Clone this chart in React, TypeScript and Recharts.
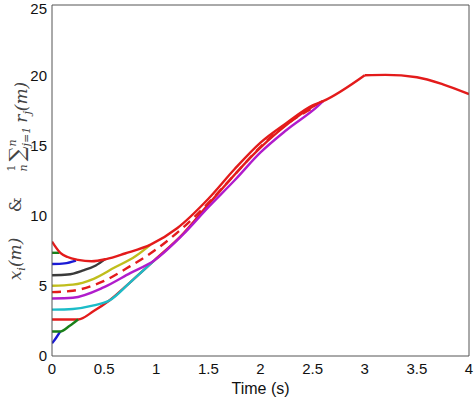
import React from 'react';
import {Line, LineChart, XAxis, YAxis} from 'recharts';

const xTicks: number[] = [0, 0.5, 1, 1.5, 2, 2.5, 3, 3.5, 4];
const yTicks: number[] = [0, 5, 10, 15, 20, 25];

// agent positions x_i(t)
const leadT = [0, 0.08, 0.15, 0.25, 0.38, 0.52, 0.7, 0.95, 1.2, 1.5, 1.75, 2, 2.25, 2.5, 2.6, 3];
const leadV = [8.15, 7.35, 7.05, 6.85, 6.75, 6.9, 7.3, 7.95, 9.1, 11.2, 13.3, 15.2, 16.6, 17.85, 18.15, 20];
const refT = [3, 3.2, 3.5, 3.75, 4];
const refV = [20, 20.02, 19.85, 19.35, 18.65];
const greenHiT = [0, 0.07];
const greenHiV = [7.35, 7.35];
const blueHiT = [0, 0.12, 0.23];
const blueHiV = [6.55, 6.6, 6.8];
const blackT = [0, 0.15, 0.3, 0.42, 0.51];
const blackV = [5.75, 5.8, 6.1, 6.45, 6.9];
const yellowT = [0, 0.2, 0.4, 0.6, 0.8, 0.94];
const yellowV = [5.0, 5.08, 5.5, 6.3, 7.1, 7.9];
const meanT = [0, 0.2, 0.5, 0.75, 1, 1.25, 1.5, 1.75, 2, 2.25, 2.5];
const meanV = [4.55, 4.65, 5.35, 6.4, 7.6, 9.1, 10.9, 12.9, 14.9, 16.5, 17.65];
const magentaT = [0, 0.2, 0.5, 0.75, 0.98, 1.25, 1.5, 1.75, 2, 2.25, 2.55, 2.6];
const magentaV = [4.1, 4.15, 4.9, 5.9, 6.8, 8.6, 10.6, 12.5, 14.5, 16.1, 17.8, 18.15];
const cyanT = [0, 0.2, 0.4, 0.55, 0.75, 0.98];
const cyanV = [3.3, 3.35, 3.6, 3.95, 5.25, 6.8];
const redLowT = [0, 0.25, 0.4, 0.55, 0.75, 0.98, 1.25, 1.5, 2, 2.5, 2.6];
const redLowV = [2.6, 2.6, 3.2, 3.95, 5.25, 6.8, 8.65, 10.8, 14.85, 17.75, 18.15];
const greenLowT = [0, 0.08, 0.17, 0.25];
const greenLowV = [1.75, 1.75, 2.15, 2.6];
const blueLowT = [0, 0.04, 0.08];
const blueLowV = [0.9, 1.3, 1.75];

const pts = (t: number[], v: number[]) => t.map((x, i) => ({t: x, v: v[i]}));

const RED = '#e31b1b';
const font = 'Liberation Sans, Arial, sans-serif';
const tickStyle = {fontSize: 15, fill: '#111', fontFamily: font};
const AX = '#555';

const series: {t: number[], v: number[], color: string, dash?: string}[] = [
    {t: redLowT, v: redLowV, color: RED},
    {t: blueLowT, v: blueLowV, color: '#1a1ad6'},
    {t: greenLowT, v: greenLowV, color: '#1a801a'},
    {t: cyanT, v: cyanV, color: '#1cbcc8'},
    {t: magentaT, v: magentaV, color: '#b01ccc'},
    {t: meanT, v: meanV, color: RED, dash: '9 6'},
    {t: yellowT, v: yellowV, color: '#c0be1c'},
    {t: blackT, v: blackV, color: '#3a3a3a'},
    {t: blueHiT, v: blueHiV, color: '#1a1ad6'},
    {t: greenHiT, v: greenHiV, color: '#1a801a'},
    {t: leadT, v: leadV, color: RED},
    {t: refT, v: refV, color: RED},
];

function YLabel() {
    const cx = 21, cy = 181;
    return (
        <text transform={`rotate(-90 ${cx} ${cy})`} x={cx} y={cy} textAnchor="middle"
              fontFamily="DejaVu Serif, Liberation Serif, serif" fontStyle="italic" fontSize={17} fill="#444">
            <tspan>x</tspan>
            <tspan fontSize={11} dy={4}>i</tspan>
            <tspan dy={-4}>(m)</tspan>
            <tspan fontStyle="normal">{'\u2003\u2002&\u2003\u2002'}</tspan>
            <tspan fontStyle="normal" fontSize={11} dy={-6}>1</tspan>
            <tspan fontSize={11} dx={-7} dy={12}>n</tspan>
            <tspan fontStyle="normal" fontSize={21} dx={3} dy={-3}>∑</tspan>
            <tspan fontSize={11} dy={-8}>n</tspan>
            <tspan fontSize={11} dx={-7} dy={14}>j=1</tspan>
            <tspan dx={4} dy={-3}>r</tspan>
            <tspan fontSize={11} dy={4}>j</tspan>
            <tspan dy={-4}>(m)</tspan>
        </text>
    );
}

export default function App(): React.JSX.Element {
    return (
        <div style={{position: 'absolute', left: 0, top: 0, background: '#fff'}}>
            <LineChart width={474} height={398} margin={{top: 5, right: 5, bottom: 0, left: 12}}>
                <XAxis dataKey="t" type="number" domain={[0, 4]} ticks={xTicks} allowDataOverflow
                       stroke={AX} tickLine={false} tickSize={0} tickMargin={7} tick={tickStyle} height={42}
                       label={{value: 'Time (s)', position: 'insideBottom', offset: 4,
                           style: {fontSize: 16, fill: '#111', fontFamily: font}}}/>
                <XAxis xAxisId="bm" type="number" domain={[0, 4]} ticks={xTicks} mirror axisLine={false}
                       stroke={AX} tickSize={5} tick={false} height={1}/>
                <XAxis xAxisId="top" orientation="top" type="number" domain={[0, 4]} ticks={xTicks} mirror
                       stroke={AX} tickSize={5} tick={false} height={1}/>
                <YAxis type="number" domain={[0, 25]} ticks={yTicks} stroke={AX} tickLine={false} tickSize={0}
                       tickMargin={5} tick={tickStyle} width={40} label={<YLabel/>}/>
                <YAxis yAxisId="lm" type="number" domain={[0, 25]} ticks={yTicks} mirror axisLine={false}
                       stroke={AX} tickSize={5} tick={false} width={1}/>
                <YAxis yAxisId="right" orientation="right" type="number" domain={[0, 25]} ticks={yTicks} mirror
                       stroke={AX} tickSize={5} tick={false} width={1}/>
                {series.map((s, i) => (
                    <Line key={i} data={pts(s.t, s.v)} dataKey="v" type="monotone" stroke={s.color}
                          strokeWidth={2.4} strokeDasharray={s.dash} dot={false} isAnimationActive={false}/>
                ))}
            </LineChart>
        </div>
    );
}
